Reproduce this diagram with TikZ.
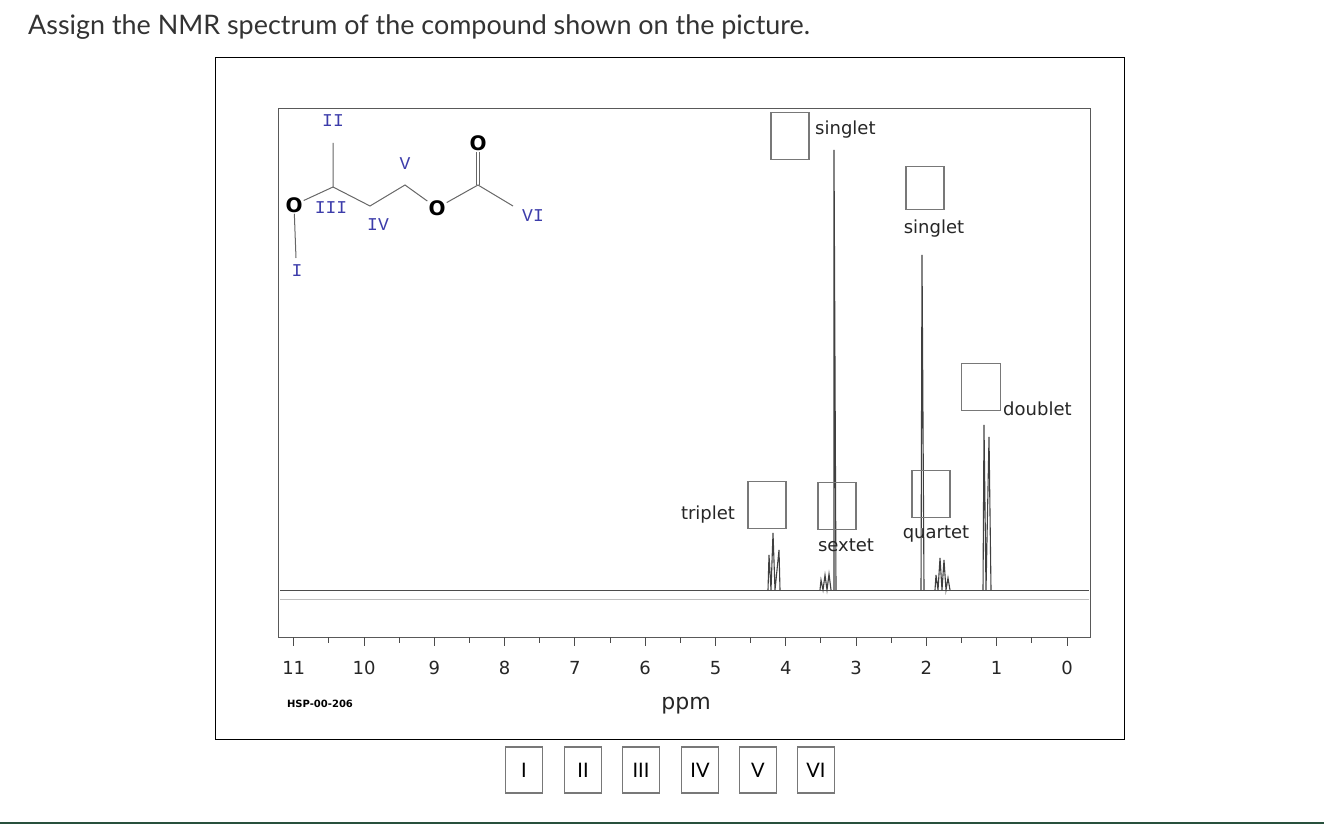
\documentclass[tikz,border=0pt]{standalone}
\usepackage{fontspec}
\setmainfont{Lato}
\newfontfamily\axfont{DejaVu Sans}
\newfontfamily\molfont{Liberation Mono}
\definecolor{molblue}{RGB}{60,60,170}
\definecolor{boxgray}{RGB}{120,120,120}
\definecolor{greenline}{RGB}{40,80,60}
\begin{document}
\begin{tikzpicture}[x=1pt,y=-1pt,
  ansbox/.style={draw=boxgray,line width=1.3pt,minimum width=37pt,minimum height=46pt,inner sep=0pt},
  sbox/.style={draw=boxgray,line width=1.2pt,minimum width=38pt,minimum height=47pt,inner sep=0pt},
  lbl/.style={font=\axfont\fontsize{18}{18}\selectfont,text=black!85,inner sep=0pt},
  ml/.style={font=\molfont\fontsize{18}{18}\selectfont,text=molblue,inner sep=0pt},
  atom/.style={font=\axfont\bfseries\fontsize{20}{20}\selectfont,inner sep=1pt},
  bond/.style={draw=black!60,line width=1pt},
  pk/.style={draw=black!75,line width=1.1pt}]
\useasboundingbox (0,0) rectangle (1324,826);
\node[anchor=west,inner sep=0pt,font=\fontsize{26.9}{26.9}\selectfont,text=black!80] (title) at (28,27) {Assign the NMR spectrum of the compound shown on the picture.};
\node[draw=black,line width=1.3pt,minimum width=909pt,minimum height=682pt,anchor=north west,inner sep=0pt] (outer) at (215,57) {};
\node[draw=black!65,line width=1.3pt,minimum width=812pt,minimum height=529pt,anchor=north west,inner sep=0pt] (plot) at (278,108) {};
% baseline
\draw[black!70,line width=1pt] (280,590) -- (1089,590);
\draw[black!25,line width=0.8pt] (280,599) -- (1089,599);
% ticks and labels
\foreach \v in {0,...,11} {
  \pgfmathsetmacro\xx{1067-70.3*\v}
  \draw[black!70,line width=1pt] (\xx,637) -- (\xx,646);
  \node[lbl] (t\v) at (\xx,668) {\v};
}
\foreach \v in {0.5,1.5,...,10.5} {
  \pgfmathsetmacro\xx{1067-70.3*\v}
  \draw[black!70,line width=1pt] (\xx,637) -- (\xx,643);
}
\node[lbl,font=\axfont\fontsize{22}{22}\selectfont] (ppm) at (686,706) {ppm};
\node[font=\axfont\bfseries\fontsize{10}{10}\selectfont,inner sep=0pt] (hsp) at (320,704) {HSP-00-206};
% peaks
\draw[pk] (834,590) -- (834,150) -- (836,590);
\draw[pk] (921,590) -- (922,255) -- (924,590);
\draw[pk] (983,590) -- (984,425) -- (986,590) -- (989,437) -- (991,590);
\draw[pk] (768,590) -- (769,555) -- (771,590) -- (773,533) -- (775,590) -- (779,550) -- (780,590);
\draw[pk] (820,590) -- (821,580) -- (823,590) -- (825,575) -- (827,590) -- (829,574) -- (831,590);
\draw[pk] (935,590) -- (936,575) -- (938,590) -- (940,558) -- (942,590) -- (944,560) -- (946,590) -- (948,578) -- (950,590);
% label boxes
\node[sbox] (b1) at (790,136) {};
\node[lbl,anchor=west] (s1) at (815,130) {singlet};
\node[sbox,minimum height=43pt] (b2) at (925,188) {};
\node[lbl] (s2) at (934,229) {singlet};
\node[sbox,minimum width=39pt] (b3) at (981,387) {};
\node[lbl,anchor=west] (s3) at (1003,409) {doublet};
\node[sbox] (b4) at (767,505) {};
\node[lbl] (s4) at (708,515) {triplet};
\node[sbox] (b5) at (837,506) {};
\node[lbl] (s5) at (846,545) {sextet};
\node[sbox] (b6) at (931,494) {};
\node[lbl] (s6) at (936,534) {quartet};
% molecule
\node[atom] (o1) at (294,205) {O};
\node[atom] (o2) at (437,208) {O};
\node[atom] (o3) at (478,143) {O};
\coordinate (c3) at (333,187);
\coordinate (c2) at (333,143);
\coordinate (c4) at (370,206);
\coordinate (c5) at (405,185);
\coordinate (c6) at (478,185);
\coordinate (c7) at (513,206);
\coordinate (c1) at (296,258);
\draw[bond] (o1) -- (c1);
\draw[bond] (o1) -- (c3) -- (c2);
\draw[bond] (c3) -- (c4) -- (c5) -- (o2) -- (c6) -- (c7);
\draw[bond] ([xshift=-1.5pt]c6) -- ([xshift=-1.5pt]o3.south);
\draw[bond] ([xshift=1.5pt]c6) -- ([xshift=1.5pt]o3.south);
\node[ml] (lI) at (297,271) {I};
\node[ml] (lII) at (333,121) {II};
\node[ml] (lIII) at (331,208) {III};
\node[ml] (lIV) at (378,225) {IV};
\node[ml] (lV) at (405,164) {V};
\node[ml] (lVI) at (533,216) {VI};
% answer boxes
\foreach \n/\x/\t in {a1/524/I,a2/583/II,a3/641/III,a4/700/IV,a5/758/V,a6/816/VI}
  \node[ansbox,font=\fontsize{20}{20}\selectfont] (\n) at (\x,770) {\t};
\draw[greenline,line width=1.5pt] (0,823) -- (1324,823);
\end{tikzpicture}
\end{document}
